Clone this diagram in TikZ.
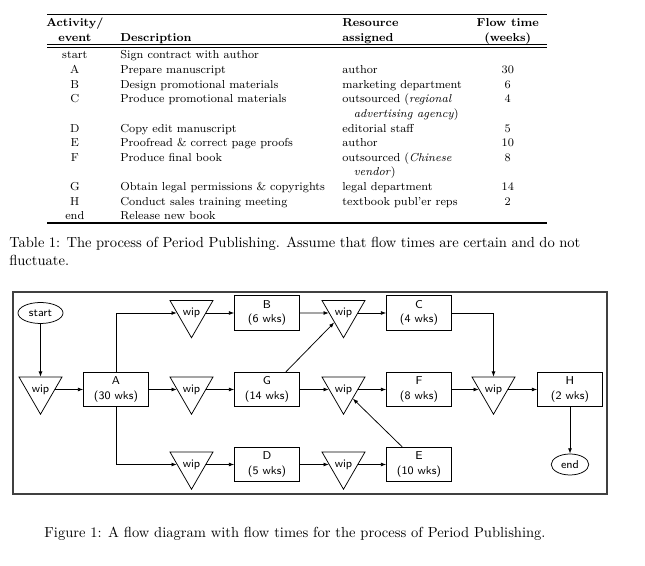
\documentclass[tikz,border=0pt]{standalone}
\usepackage{array}
\usetikzlibrary{arrows.meta,shapes.geometric,calc}
\newcommand{\tabfont}{\fontsize{7.7}{9.5}\selectfont}
\newcommand{\capfont}{\fontsize{9.7}{12}\selectfont}
\newcommand{\diafont}{\sffamily\fontsize{7.6}{9.6}\selectfont}
\newcolumntype{Y}{w{c}{36.7pt}}
\newcolumntype{Z}{w{c}{40.6pt}}
\begin{document}
\begin{tikzpicture}[x=0.6667pt,y=-0.6667pt,
  proc/.style={draw,line width=0.5pt,minimum width=43.3pt,minimum height=23pt,align=center,font=\diafont,inner sep=1pt},
  wip/.style={draw,line width=0.5pt,regular polygon,regular polygon sides=3,shape border rotate=180,minimum size=33pt,inner sep=0pt,font=\diafont},
  term/.style={draw,line width=0.5pt,ellipse,inner sep=0.5pt,minimum height=14pt,font=\diafont},
  flow/.style={line width=0.5pt,-{Latex[length=3.5pt,width=2.6pt]}},
  rulethick/.style={line width=0.7pt},
  tabtext/.style={anchor=base west,inner sep=0pt,font=\tabfont},
  captext/.style={inner sep=0pt,font=\capfont}
]
\useasboundingbox (0,0) rectangle (645,566);

% ---------- table ----------
\node[tabtext] (thead) at (47,27) {\begin{tabular}[t]{@{}Yw{l}{136pt}w{l}{78pt}Z}
\textbf{Activity/} & & \textbf{Resource} & \textbf{Flow time}\\
\textbf{event} & \textbf{Description} & \textbf{assigned} & \textbf{(weeks)}
\end{tabular}};

\node[tabtext] (tbody) at (47,59) {\renewcommand{\arraystretch}{1.025}\begin{tabular}[t]{@{}Yw{l}{136pt}w{l}{78pt}Z}
start & Sign contract with author & & \\
A & Prepare manuscript & author & 30\\
B & Design promotional materials & marketing department & 6\\
C & Produce promotional materials & outsourced (\textit{regional} & 4\\
 & & \hspace*{1em}\textit{advertising agency}) & \\
D & Copy edit manuscript & editorial staff & 5\\
E & Proofread \& correct page proofs & author & 10\\
F & Produce final book & outsourced (\textit{Chinese} & 8\\
 & & \hspace*{1em}\textit{vendor}) & \\
G & Obtain legal permissions \& copyrights & legal department & 14\\
H & Conduct sales training meeting & textbook publ'er reps & 2\\
end & Release new book & & \\
\end{tabular}};

\draw[rulethick] (47,14.7) -- (547,14.7);
\draw[rulethick] (47,44.7) -- (547,44.7);
\draw[line width=0.4pt] (47,47.3) -- (547,47.3);
\draw[rulethick] (47,223) -- (547,223);

\node[captext,anchor=base west] (tcap1) at (9,248) {\makebox[380.7pt][s]{Table 1: The process of Period Publishing. Assume that flow times are certain and do not}};
\node[captext,anchor=base west] (tcap2) at (9,266) {fluctuate.};

% ---------- diagram ----------
\draw[line width=0.8pt,black!75] (13,292) rectangle (607,494);

\node[term,minimum width=30pt] (start) at (40.5,313) {start};
\node[wip] (w0) at (40.5,389.5) {wip};
\node[proc] (A) at (116,389.5) {A\\(30 wks)};
\node[wip] (w1) at (191.5,313) {wip};
\node[wip] (w2) at (191.5,389.5) {wip};
\node[wip] (w3) at (191.5,464.5) {wip};
\node[proc] (B) at (267,313) {B\\(6 wks)};
\node[proc] (G) at (267,389.5) {G\\(14 wks)};
\node[proc] (D) at (267,464.5) {D\\(5 wks)};
\node[wip] (w4) at (343.5,313) {wip};
\node[wip] (w5) at (343.5,389.5) {wip};
\node[wip] (w6) at (343.5,464.5) {wip};
\node[proc] (C) at (419,313) {C\\(4 wks)};
\node[proc] (F) at (419,389.5) {F\\(8 wks)};
\node[proc] (E) at (419,464.5) {E\\(10 wks)};
\node[wip] (w7) at (493.5,389.5) {wip};
\node[proc] (H) at (570,389.5) {H\\(2 wks)};
\node[term,minimum width=25pt] (end) at (570,464.5) {end};

\draw[flow] (start) -- (w0);
\draw[flow] (w0) -- (A);
\draw[flow] (A.north) |- (w1);
\draw[flow] (A) -- (w2);
\draw[flow] (A.south) |- (w3);
\draw[flow] (w1) -- (B);
\draw[flow] (w2) -- (G);
\draw[flow] (w3) -- (D);
\draw[flow] (B) -- (w4);
\draw[flow] (G) -- (w5);
\draw[flow] (D) -- (w6);
\draw[flow] ([xshift=-9.3pt]G.north east) -- (w4);
\draw[flow] (w4) -- (C);
\draw[flow] (w5) -- (F);
\draw[flow] (w6) -- (E);
\draw[flow] ([xshift=10.7pt]E.north west) -- (w5);
\draw[flow] (C.east) -| (w7);
\draw[flow] (F) -- (w7);
\draw[flow] (w7) -- (H);
\draw[flow] (H) -- (end);

\node[captext,anchor=base] (fcap) at (295,538) {Figure 1: A flow diagram with flow times for the process of Period Publishing.};
\end{tikzpicture}
\end{document}
